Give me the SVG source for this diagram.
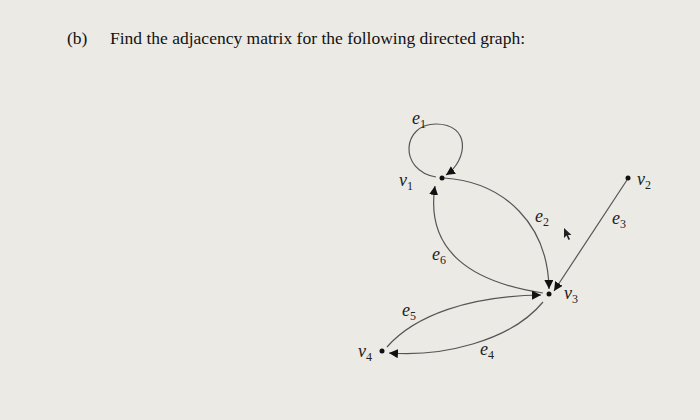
<svg xmlns="http://www.w3.org/2000/svg" width="700" height="420" viewBox="0 0 700 420">
<defs>
<marker id="arr" viewBox="0 0 10 10" refX="10" refY="5" markerWidth="9" markerHeight="9" markerUnits="userSpaceOnUse" orient="auto">
<path d="M0,0 L10,5 L0,10 z" fill="#111"/>
</marker>
<style>
.title{font-family:"Liberation Serif","Times New Roman",serif;font-size:17.5px;fill:#111}
.lbl{font-family:"Liberation Serif","DejaVu Serif",serif;font-style:italic;font-size:18px;fill:#222}
.sub{font-size:12px;font-style:normal}
.edge{fill:none;stroke:#555;stroke-width:1.2;marker-end:url(#arr)}
.dot{fill:#111}
</style>
</defs>
<rect width="700" height="420" fill="#ebeae5"/>
<g id="title">
<text class="title" x="67" y="44">(b)</text>
<text class="title" x="110" y="44">Find the adjacency matrix for the following directed graph:</text>
</g>
<g id="connectors">
<path id="e1" class="edge" d="M436 177 C398 170 402 124 436 124 C471 124 468 160 446 175"/>
<path id="e2" class="edge" d="M444 178 C505 182 548 225 549 289"/>
<path id="e6" class="edge" d="M543 293 C470 282 425 250 435 186"/>
<path id="e3" class="edge" d="M627 180 L554 291"/>
<path id="e5" class="edge" d="M387 347 C415 315 470 296 541 295"/>
<path id="e4" class="edge" d="M543 302 C510 342 440 357 389 353"/>
</g>
<g id="edge-labels">
<text class="lbl" x="412" y="124">e<tspan class="sub" dy="4">1</tspan></text>
<text class="lbl" x="535" y="222">e<tspan class="sub" dy="4">2</tspan></text>
<text class="lbl" x="612" y="224">e<tspan class="sub" dy="4">3</tspan></text>
<text class="lbl" x="480" y="355">e<tspan class="sub" dy="4">4</tspan></text>
<text class="lbl" x="402" y="316">e<tspan class="sub" dy="4">5</tspan></text>
<text class="lbl" x="432" y="260">e<tspan class="sub" dy="4">6</tspan></text>
</g>
<g id="v1">
<circle class="dot" cx="442" cy="178" r="2.5"/>
<text class="lbl" x="399" y="186">v<tspan class="sub" dy="4">1</tspan></text>
</g>
<g id="v2">
<circle class="dot" cx="628" cy="178" r="2.5"/>
<text class="lbl" x="637" y="185">v<tspan class="sub" dy="4">2</tspan></text>
</g>
<g id="v3">
<circle class="dot" cx="549" cy="294" r="2.5"/>
<text class="lbl" x="564" y="299">v<tspan class="sub" dy="4">3</tspan></text>
</g>
<g id="v4">
<circle class="dot" cx="382" cy="351" r="2.5"/>
<text class="lbl" x="358" y="357">v<tspan class="sub" dy="4">4</tspan></text>
</g>
<g id="cursor">
<path d="M564 228 L564 238 L566.5 235.5 L568.5 240 L570 239.3 L568 235 L571.5 235 z" fill="#222"/>
</g>
</svg>
